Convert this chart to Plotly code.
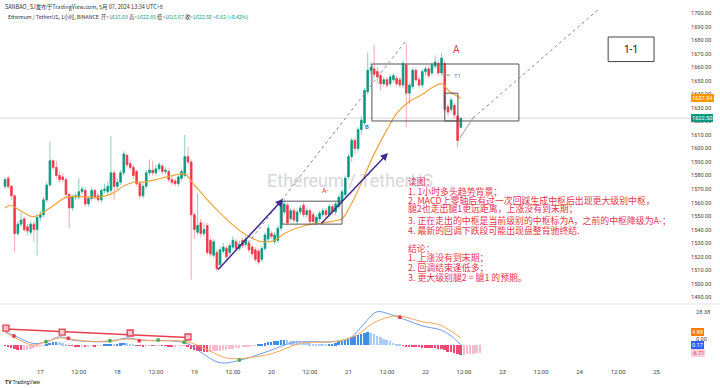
import plotly.graph_objects as go
from datetime import datetime, timedelta

START = datetime(2023, 1, 16, 13, 0)  # first 1h candle

# ---------------- price data (1h candles) ----------------
open_ = [1572,1578,1572,1565,1537,1544,1548,1542,1538,1544,1540,1549,1551,1562,1573,1591,1586,1580,1579,1577,
         1566,1556,1564,1564,1568,1569,1559,1563,1569,1565,1562,1569,1568,1569,1582,1572,1575,1582,1595,1589,
         1586,1583,1574,1565,1572,1582,1584,1582,1585,1587,1583,1583,1577,1576,1574,1578,1580,1594,1590,1551,
         1538,1545,1537,1543,1532,1521,1523,1514,1524,1526,1523,1527,1531,1526,1532,1529,1530,1527,1525,1524,
         1518,1526,1533,1537,1531,1532,1541,1553,1558,1548,1554,1546,1553,1558,1551,1554,1551,1545,1548,1551,
         1554,1551,1557,1553,1557,1561,1566,1579,1594,1606,1600,1614,1619,1642,1658,1659,1657,1654,1648,1651,
         1648,1651,1652,1651,1647,1662,1641,1646,1658,1651,1647,1657,1659,1656,1661,1663,1656,1663,1631,1629,
         1632,1624,1615.68]
high = [1579,1580,1573,1566,1546,1553,1549,1544,1546,1546,1551,1554,1564,1575,1605,1592,1591,1583,1582,1578,
        1567,1566,1567,1578,1572,1571,1565,1571,1570,1567,1570,1574,1576,1609,1584,1578,1584,1598,1596,1592,
        1588,1584,1576,1574,1584,1592,1591,1588,1590,1589,1586,1585,1580,1578,1580,1585,1610,1601,1592,1553,
        1567,1548,1545,1545,1534,1533,1525,1527,1530,1528,1530,1535,1533,1532,1534,1535,1532,1529,1527,1526,
        1528,1538,1544,1539,1538,1543,1563,1563,1560,1556,1556,1555,1558,1560,1556,1556,1553,1551,1554,1556,
        1556,1559,1559,1561,1566,1570,1580,1596,1608,1608,1616,1624,1645,1671,1664,1677,1660,1656,1653,1653,
        1655,1656,1654,1653,1665,1678,1649,1660,1660,1653,1659,1661,1661,1664,1669,1665,1671,1665,1633,1638,
        1634,1626,1622.85]
low = [1570,1570,1562,1523,1535,1542,1538,1536,1536,1531,1521,1546,1549,1560,1572,1584,1578,1575,1575,1564,
       1541,1554,1562,1562,1566,1557,1557,1561,1562,1560,1560,1567,1566,1567,1562,1570,1573,1580,1586,1584,
       1578,1572,1563,1563,1570,1580,1580,1580,1583,1581,1581,1575,1573,1572,1572,1576,1579,1588,1503,1533,
       1536,1534,1535,1521,1520,1519,1509,1512,1522,1518,1521,1525,1524,1524,1526,1527,1523,1520,1516,1514,
       1516,1524,1531,1533,1529,1530,1539,1551,1543,1546,1545,1544,1551,1549,1549,1544,1544,1543,1546,1549,
       1549,1549,1551,1551,1555,1559,1564,1577,1590,1596,1598,1610,1617,1640,1655,1652,1648,1643,1646,1645,
       1646,1649,1646,1645,1645,1616,1633,1644,1649,1645,1645,1654,1652,1654,1659,1654,1654,1627,1624,1627,
       1622,1601,1615.67]
close = [1577,1572,1565,1537,1544,1547,1540,1539,1544,1540,1549,1551,1562,1573,1591,1586,1580,1577,1577,1566,
         1556,1564,1565,1568,1570,1559,1563,1569,1564,1562,1569,1570,1572,1582,1572,1575,1582,1596,1588,1586,
         1580,1574,1565,1572,1582,1584,1582,1585,1588,1583,1584,1577,1575,1574,1579,1583,1594,1590,1551,1540,
         1543,1537,1540,1523,1522,1531,1511,1525,1527,1520,1528,1532,1526,1529,1528,1533,1525,1522,1518,1516,
         1526,1536,1541,1535,1536,1541,1561,1559,1545,1554,1547,1553,1556,1551,1554,1546,1546,1549,1552,1554,
         1551,1557,1553,1559,1564,1568,1578,1594,1606,1600,1614,1621,1643,1658,1660,1655,1653,1648,1651,1647,
         1653,1654,1648,1647,1663,1641,1647,1658,1651,1647,1657,1659,1654,1662,1664,1656,1667,1629,1627,1636,
         1625,1606,1622.50]

# moving average (orange), read at candle positions
ma_idx = [0, 1.6, 8.7, 14, 19.2, 29.6, 33.7, 36.8, 40, 43, 47, 50.4, 56, 59, 65.4, 73.8, 80, 84, 87,
          93.5, 98.8, 105, 107, 109.6, 114.6, 119, 122, 126, 130, 133, 136, 138.6, 142]
ma_val = [1556, 1558, 1549.5, 1556, 1564, 1564, 1567, 1572, 1575, 1575, 1577, 1579, 1581, 1573, 1556, 1538,
          1531, 1532, 1537, 1543, 1545, 1548, 1555, 1567, 1594, 1614, 1626, 1635, 1640, 1645, 1648, 1642, 1637.3]

# ---------------- MACD pane ----------------
macd_idx = [0, 2.5, 8.7, 13, 17, 21, 32.7, 38, 43, 50.5, 56.7, 60.7, 67, 73, 81.6, 89.7, 95, 102, 106.5,
            109.7, 112.8, 115.9, 120, 125.2, 130.2, 135.5, 138.6, 142]
macd_val = [11.3, 8.5, 1.4, 2.8, 7, 4.2, 3, 6, 4, 3.7, 1.4, -5.6, -15, -13, -5.6, 2.1, 2.8, 2.8, 4.2,
            11.3, 21, 28.2, 26, 21, 16, 13, 8.5, 0.17]
sig_idx = [0, 4.7, 8.7, 13, 17, 23, 29.6, 38, 46, 56.7, 63, 69, 75, 83.5, 92, 102, 106, 109.7, 114.6,
           120, 123, 130, 135.5, 142]
sig_val = [11, 4, 0, 3, 6, 4, 3, 5, 3.7, 2.8, -4, -11, -11, -7, 1.4, 2.8, 5, 8.5, 18.4, 24, 24.6, 19.8, 17, 6]
hist = [-0.5,-1.5,-2.5,-3.5,-4.2,-4.5,-4.3,-4.0,-3.5,-2.8,-2.0,-1.2,-0.4,0.6,1.8,2.6,2.8,2.4,1.6,0.8,
        -0.3,-0.8,-1.0,-1.2,-1.0,-1.1,-1.0,-0.8,-0.9,-0.6,-0.3,0.2,0.6,1.2,1.0,1.1,1.4,1.8,1.5,1.0,
        0.4,-0.3,-0.8,-0.9,-0.6,-0.4,-0.5,-0.3,-0.2,-0.5,-0.7,-0.9,-1.0,-0.9,-0.7,-0.5,-0.4,-1.0,-3.0,-4.2,
        -4.8,-5.2,-5.6,-5.8,-5.6,-5.3,-5.2,-4.8,-4.3,-3.8,-3.4,-3.0,-2.6,-2.2,-1.8,-1.4,-1.1,-0.8,-0.5,0.2,
        0.8,1.6,2.4,2.8,3.2,3.6,4.2,4.4,4.0,3.6,3.3,3.0,2.8,2.2,1.8,1.4,1.0,0.8,0.6,0.5,
        0.4,0.6,0.8,1.4,2.2,3.0,4.0,5.5,6.5,7.5,8.5,9.5,10.5,11.0,10.2,9.0,7.8,6.5,5.2,4.0,
        3.0,2.0,1.2,0.4,-0.4,-1.0,-1.4,-1.6,-1.8,-2.0,-2.2,-2.4,-2.5,-2.6,-2.8,-3.2,-3.5,-4.5,-5.5,-6.3,
        -7.0,-7.8,-8.4,-8.2,-7.8,-7.5,-7.2,-6.9,-6.7]
pivot_idx = [0.3, 17.8, 39, 57]
pivot_val = [14.4, 11.0, 10.2, 6.8]
cross_dn_idx = [2.8, 19.7, 41.8, 123]
cross_dn_val = [7.6, 5.7, 3.6, 23.5]
cross_up_idx = [12.8, 32.7, 47.7, 55.8, 73]
cross_up_val = [2.8, 3.6, 4.2, 2.3, -12.7]

# axis ticks
price_ticks = [1490, 1500, 1510, 1520, 1530, 1540, 1550, 1560, 1570, 1580, 1590, 1600, 1610, 1620,
               1630, 1640, 1650, 1660, 1670, 1680, 1690, 1700]
time_tick_hours = [11, 23, 35, 47, 59, 71, 83, 95, 107, 119, 131, 143, 155, 167, 179, 191, 203]
time_tick_labels = ["17", "12:00", "18", "12:00", "19", "12:00", "20", "12:00", "21", "12:00",
                    "22", "12:00", "23", "12:00", "24", "12:00", "25"]

notes = ["读图：",
         "1. 1小时多头趋势背景；",
         "2. MACD上零轴后有过一次回踩生成中枢后出现更大级别中枢，",
         "腿2也走出腿1更远距离，上涨没有到末期；",
         "3. 正在走出的中枢是当前级别的中枢标为A，之前的中枢降级为A-；",
         "4. 最新的回调下跌段可能出现盘整背驰终结.",
         "结论：",
         "1. 上涨没有到末期；",
         "2. 回调结束逢低多；",
         "3. 更大级别腿2 = 腿1 的预期。"]
notes_price = [1575.3, 1568.3, 1561.6, 1555.4, 1546.7, 1539.3, 1526.3, 1519.6, 1512.2, 1504.8]


def T(n):
    return START + timedelta(hours=n)


times = [T(i) for i in range(len(close))]

GREEN = "#089981"
RED = "#F23645"
fig = go.Figure()

# watermark (behind everything)
fig.add_trace(go.Scatter(x=[T(107.5)], y=[1575.2], mode="text", text=["Ethereum / TetherUS"],
                         textfont=dict(size=18, color="rgba(150,150,150,0.4)", family="Roboto"),
                         hoverinfo="skip", showlegend=False))

# wicks (pale) + bodies (solid)
fig.add_trace(go.Candlestick(x=times, open=open_, high=high, low=low, close=close,
                             increasing=dict(line=dict(color="#86cfc3", width=1), fillcolor="#86cfc3"),
                             decreasing=dict(line=dict(color="#f6a6ae", width=1), fillcolor="#f6a6ae"),
                             whiskerwidth=0, showlegend=False, hoverinfo="skip"))
fig.add_trace(go.Candlestick(x=times, open=open_, close=close,
                             high=[max(o, c) for o, c in zip(open_, close)],
                             low=[min(o, c) for o, c in zip(open_, close)],
                             increasing=dict(line=dict(color=GREEN, width=0.6), fillcolor=GREEN),
                             decreasing=dict(line=dict(color=RED, width=0.6), fillcolor=RED),
                             whiskerwidth=0, showlegend=False, hoverinfo="skip"))

fig.add_trace(go.Scatter(x=[T(n) for n in ma_idx], y=ma_val, mode="lines",
                         line=dict(color="#F2A23C", width=1.2, shape="spline", smoothing=0.8),
                         showlegend=False, hoverinfo="skip"))

# MACD histogram
cols = []
prev = 0
for h in hist:
    if h >= 0:
        cols.append("#3f8ee8" if h >= prev else "#a9cdf4")
    else:
        cols.append("#ee4a76" if h <= prev else "#f7bcd0")
    prev = h
fig.add_trace(go.Bar(x=[T(i) for i in range(len(hist))], y=hist, marker=dict(color=cols, line=dict(width=0)),
                     width=0.62 * 3600 * 1000, yaxis="y2", showlegend=False, hoverinfo="skip"))
fig.add_trace(go.Scatter(x=[T(n) for n in macd_idx], y=macd_val, mode="lines", yaxis="y2",
                         line=dict(color="#6d9ce6", width=1, shape="spline"), showlegend=False, hoverinfo="skip"))
fig.add_trace(go.Scatter(x=[T(n) for n in sig_idx], y=sig_val, mode="lines", yaxis="y2",
                         line=dict(color="#F4A65A", width=1, shape="spline"), showlegend=False, hoverinfo="skip"))
fig.add_trace(go.Scatter(x=[T(pivot_idx[0]), T(pivot_idx[-1])], y=[13.6, 6.4], mode="lines", yaxis="y2",
                         line=dict(color="#E8404F", width=1.5), showlegend=False, hoverinfo="skip"))
fig.add_trace(go.Scatter(x=[T(n) for n in pivot_idx], y=pivot_val, mode="markers", yaxis="y2",
                         marker=dict(symbol="square", size=6, color="#f8c9cf", line=dict(color="#E8404F", width=1.3)),
                         showlegend=False, hoverinfo="skip"))
fig.add_trace(go.Scatter(x=[T(n) for n in cross_dn_idx], y=cross_dn_val, mode="markers", yaxis="y2",
                         marker=dict(size=4, color="#E8404F"), showlegend=False, hoverinfo="skip"))
fig.add_trace(go.Scatter(x=[T(n) for n in cross_up_idx], y=cross_up_val, mode="markers", yaxis="y2",
                         marker=dict(size=4, color="#4CAF50"), showlegend=False, hoverinfo="skip"))

shapes = []
# current price line
shapes.append(dict(type="line", xref="paper", x0=0, x1=1, yref="y", y0=close[-1], y1=close[-1],
                   line=dict(color="#d9d9d9", width=1), layer="below"))
# pane separator
shapes.append(dict(type="line", xref="paper", x0=0, x1=1.05, yref="paper", y0=0.1717, y1=0.1717,
                   line=dict(color="#e3e3e3", width=1)))
# boxes
for (a, b, lo, hi) in [(86.3, 105, 1544, 1561), (114.3, 160.1, 1620.4, 1662.6), (137, 141.1, 1620.4, 1641)]:
    shapes.append(dict(type="rect", xref="x", yref="y", x0=T(a), x1=T(b), y0=lo, y1=hi,
                       line=dict(color="#555555", width=1)))
shapes.append(dict(type="rect", xref="x", yref="y", x0=T(187.9), x1=T(202.2), y0=1664.4, y1=1682.6,
                   line=dict(color="#444444", width=1)))
# dotted projection lines
shapes.append(dict(type="line", xref="x", yref="y", x0=T(75.7), y0=1530, x1=T(124.6), y1=1678.9,
                   line=dict(color="#8a8a8a", width=1, dash="dot")))
shapes.append(dict(type="line", xref="x", yref="y", x0=T(141.7), y0=1607.8, x1=T(145.8), y1=1622.6,
                   line=dict(color="#9a9a9a", width=1)))
shapes.append(dict(type="line", xref="x", yref="y", x0=T(145.8), y0=1622.6, x1=T(184.7), y1=1702.6,
                   line=dict(color="#8a8a8a", width=1, dash="dot")))
# T1 tick
shapes.append(dict(type="line", xref="x", yref="y", x0=T(136.3), y0=1654.4, x1=T(138.6), y1=1654.4,
                   line=dict(color="#8a9ab5", width=1)))

ann = []
PURPLE = "#3B2E94"
ann.append(dict(x=T(86.6), y=1562.6, ax=T(66), ay=1509.3, xref="x", yref="y", axref="x", ayref="y",
                showarrow=True, arrowhead=2, arrowsize=1, arrowwidth=1.5, arrowcolor=PURPLE, text=""))
ann.append(dict(x=T(119.3), y=1596.7, ax=T(98.1), ay=1543.3, xref="x", yref="y", axref="x", ayref="y",
                showarrow=True, arrowhead=2, arrowsize=1, arrowwidth=1.5, arrowcolor=PURPLE, text=""))

CJK = "Noto Sans CJK SC"
TXT_RED = "#E5344F"
for line, p in zip(notes, notes_price):
    ann.append(dict(x=T(124.9), y=p, xref="x", yref="y", text=line, showarrow=False, xanchor="left",
                    yanchor="middle", font=dict(family=CJK, size=8.9, color=TXT_RED)))
ann.append(dict(x=T(140.8), y=1673, xref="x", yref="y", text="A", showarrow=False,
                font=dict(family="Roboto", size=10, color=TXT_RED)))
ann.append(dict(x=T(99.9), y=1568.5, xref="x", yref="y", text="A-", showarrow=False,
                font=dict(family="Roboto", size=7, color=TXT_RED)))
ann.append(dict(x=T(139.3), y=1654.4, xref="x", yref="y", text="T1", showarrow=False, xanchor="left",
                font=dict(family="Roboto", size=6, color="#6f82a8")))
ann.append(dict(x=T(112.8), y=1616, xref="x", yref="y", text="<b>B</b>", showarrow=False,
                font=dict(family="Roboto", size=6, color="#5a68c8")))
ann.append(dict(x=T(195.1), y=1673.5, xref="x", yref="y", text="1-1", showarrow=False,
                font=dict(family="Roboto", size=10, color="#111111")))

# header
ann.append(dict(x=0.004, y=1 - 7 / 367, xref="paper", yref="paper", xanchor="left", yanchor="middle",
                showarrow=False, text="SANBAO_SJ发布于TradingView.com, 5月 07, 2024 13:34 UTC+8",
                font=dict(family=CJK, size=5.5, color="#333333")))
g = "<span style='color:#089981'>"
ann.append(dict(x=0.009, y=1 - 17 / 367, xref="paper", yref="paper", xanchor="left", yanchor="middle",
                showarrow=False,
                text="Ethereum / TetherUS, 1小时, BINANCE  开=" + g + "1615.68</span> 高=" + g + "1622.85</span> 低="
                     + g + "1615.67</span> 收=" + g + "1622.50</span> " + g + "+6.82 (+0.42%)</span>",
                font=dict(family=CJK, size=5.2, color="#333333")))
ann.append(dict(x=0.004, y=-15 / 367, xref="paper", yref="paper", xanchor="left", yanchor="middle",
                showarrow=False, text="<b>TV</b> TradingView", font=dict(family="Roboto", size=5, color="#222222")))

# price tags
def tag(yref, y, text, bg, fg="#ffffff"):
    return dict(x=1.002, y=y, xref="paper", yref=yref, xanchor="left", yanchor="middle", showarrow=False,
                text=text, bgcolor=bg, borderpad=1, borderwidth=0,
                font=dict(family="Roboto", size=5.6, color=fg))

ann.append(tag("y", 1637.3, "1637.34", "#FF9800"))
ann.append(tag("y", 1622.5, "1622.50", GREEN))
ann.append(dict(x=1.006, y=28.0, xref="paper", yref="y2", xanchor="left", showarrow=False, text="28.38",
                font=dict(family="Roboto", size=5.6, color="#444444")))
ann.append(dict(x=1.006, y=5.1, xref="paper", yref="y2", xanchor="left", showarrow=False, text="0.00",
                font=dict(family="Roboto", size=5.6, color="#444444")))
ann.append(tag("y2", 11.0, "4.88", "#FF7A00"))
ann.append(tag("y2", 0.0, "0.17", "#2962FF"))
ann.append(tag("y2", -6.8, "-6.71", "#F9CFDA", fg="#E0406A"))

fig.update_layout(
    width=720, height=388, margin=dict(l=0, r=30, t=0, b=21),
    paper_bgcolor="white", plot_bgcolor="white", showlegend=False, hovermode=False,
    xaxis=dict(domain=[0, 1], anchor="y2", range=[T(-1.56), T(213.4)], rangeslider=dict(visible=False),
               tickvals=[T(h) for h in time_tick_hours], ticktext=time_tick_labels, showgrid=False,
               zeroline=False, showline=False, ticks="", tickfont=dict(family="Roboto", size=6, color="#444444")),
    yaxis=dict(domain=[0.1744, 1], range=[1485.6, 1710], side="right", anchor="x", tickvals=price_ticks,
               ticktext=[f"{v:.2f}" for v in price_ticks], showgrid=False, zeroline=False, ticks="",
               tickfont=dict(family="Roboto", size=5.6, color="#444444")),
    yaxis2=dict(domain=[0, 0.1689], range=[-18.6, 33.9], side="right", anchor="x", showticklabels=False,
                showgrid=False, zeroline=False),
    shapes=shapes, annotations=ann, bargap=0,
)
fig.write_html("out.html", config={"displayModeBar": False},
               post_script="document.body.style.margin='0';document.body.style.overflow='hidden';")
